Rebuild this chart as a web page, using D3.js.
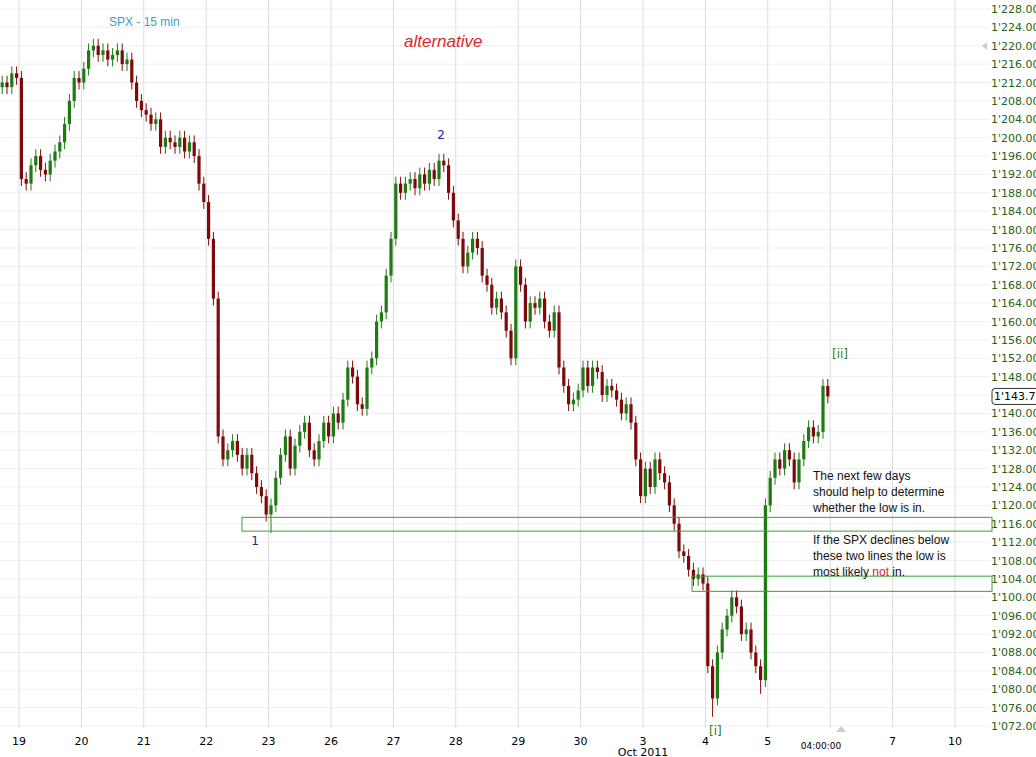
<!DOCTYPE html>
<html><head><meta charset="utf-8">
<script src="https://cdn.jsdelivr.net/npm/d3@7"></script>
<style>body{margin:0;background:#fff}svg{display:block;font-family:"DejaVu Sans",Verdana,sans-serif}</style>
</head><body><svg id="c" width="1036" height="757"></svg>
<script>
// day slots on the x axis (incl. empty future days)
const days = ['16', '19', '20', '21', '22', '23', '26', '27', '28', '29', '30', '3', '4', '5', '6', '7', '10'];
const dayLabels = ['', '19', '20', '21', '22', '23', '26', '27', '28', '29', '30', '3', '4', '5', '', '7', '10'];
// 30-min closes per session (13 slots each)
const closes = {
  '16': [1212, 1211, 1214, 1213],
  '19': [1191, 1190, 1194, 1196, 1193, 1192, 1195, 1197, 1199, 1203, 1208, 1213, 1212],
  '20': [1215, 1219, 1220, 1218, 1219, 1217, 1218, 1219, 1216, 1217, 1212, 1208, 1206],
  '21': [1205, 1203, 1204, 1198, 1200, 1199, 1198, 1200, 1197, 1199, 1196, 1190, 1186],
  '22': [1178, 1165, 1135, 1130, 1132, 1134, 1131, 1128, 1131, 1127, 1124, 1122, 1118],
  '23': [1120, 1126, 1131, 1135, 1128, 1133, 1136, 1138, 1132, 1130, 1134, 1138, 1135],
  '26': [1140, 1138, 1143, 1150, 1148, 1142, 1141, 1150, 1152, 1160, 1162, 1170, 1178],
  '27': [1190, 1188, 1190, 1191, 1189, 1192, 1190, 1193, 1191, 1195, 1194, 1188, 1182],
  '28': [1178, 1172, 1175, 1178, 1176, 1170, 1168, 1163, 1165, 1162, 1158, 1152, 1172],
  '29': [1168, 1160, 1164, 1163, 1165, 1160, 1158, 1162, 1150, 1146, 1142, 1143, 1145],
  '30': [1150, 1146, 1150, 1149, 1144, 1146, 1145, 1143, 1140, 1142, 1138, 1130, 1122],
  '3': [1128, 1124, 1130, 1127, 1125, 1120, 1116, 1110, 1109, 1106, 1104, 1105, 1103],
  '4': [1085, 1078, 1088, 1093, 1096, 1100, 1098, 1092, 1093, 1088, 1085, 1082, 1120],
  '5': [1126, 1130, 1128, 1132, 1130, 1125, 1130, 1134, 1137, 1135, 1136, 1146, 1143.7]
};
// extreme wicks
const lowOverride = { '23-0': 1114, '4-1': 1074, '4-11': 1079 };
const priceTicks = d3.range(1072, 1229, 4);
const lastPrice = 1143.7;
const zone1 = [1114.4, 1117.4];
const zone2 = [1101.3, 1104.6];

const svg = d3.select('#c');
const SLOTS = 13;
const x = d3.scaleLinear().domain([0, days.length]).range([-43.4, 1017.4]); // 62.4px per day, '19' at x=19
const y = d3.scaleLinear().domain([1072, 1228]).range([726, 9]);
const plotRight = 990;

// build bars
const bars = [];
let prev = 1213;
days.forEach((d, di) => {
  const cs = closes[d];
  if (!cs) return;
  const offset = d === '16' ? SLOTS - cs.length : 0;
  cs.forEach((c, i) => {
    const o = d === '16' && i === 0 ? 1211 : prev;
    const key = d + '-' + i;
    bars.push({
      x: x(di + (offset + i + 0.5) / SLOTS),
      o, c,
      h: Math.max(o, c) + 1.5,
      l: lowOverride[key] !== undefined ? lowOverride[key] : Math.min(o, c) - 1.5
    });
    prev = c;
  });
});

// grid
svg.append('g').selectAll('line').data(priceTicks).join('line')
  .attr('x1', 0).attr('x2', plotRight).attr('y1', (d) => y(d)).attr('y2', (d) => y(d))
  .attr('stroke', '#efefef');
svg.append('g').selectAll('line').data(days.slice(1)).join('line')
  .attr('x1', (d, i) => x(i + 1)).attr('x2', (d, i) => x(i + 1))
  .attr('y1', 0).attr('y2', 728).attr('stroke', '#dcdcdc');

// candles
const green = '#1f7a12', red = '#7d0a0a';
const cg = svg.append('g');
cg.selectAll('line').data(bars).join('line')
  .attr('x1', (d) => d.x).attr('x2', (d) => d.x)
  .attr('y1', (d) => y(d.h)).attr('y2', (d) => y(d.l))
  .attr('stroke', (d) => (d.c >= d.o ? green : red)).attr('stroke-width', 1);
cg.selectAll('rect').data(bars).join('rect')
  .attr('x', (d) => d.x - 1.6).attr('width', 3.2)
  .attr('y', (d) => y(Math.max(d.o, d.c)))
  .attr('height', (d) => Math.max(1, Math.abs(y(d.o) - y(d.c))))
  .attr('fill', (d) => (d.c >= d.o ? green : red));

// zones
svg.append('rect').attr('x', 242).attr('width', 750).attr('y', y(zone1[1])).attr('height', y(zone1[0]) - y(zone1[1]))
  .attr('fill', 'none').attr('stroke', '#3c9a3c');
svg.append('rect').attr('x', 692).attr('width', 300).attr('y', y(zone2[1])).attr('height', y(zone2[0]) - y(zone2[1]))
  .attr('fill', 'none').attr('stroke', '#3c9a3c');

// y axis labels (the one under the last-price box is hidden)
const fmt = (v) => d3.format(',.2f')(v).replace(/,/g, "'");
svg.append('g').selectAll('text').data(priceTicks.filter((d) => Math.abs(d - lastPrice) > 2)).join('text')
  .attr('x', 991).attr('y', (d) => y(d) + 4).attr('font-size', 11).attr('fill', '#266316').text(fmt);
svg.append('rect').attr('x', 992).attr('y', y(lastPrice) - 8).attr('width', 50).attr('height', 16).attr('rx', 3)
  .attr('fill', '#fff').attr('stroke', '#333');
svg.append('text').attr('x', 994).attr('y', y(lastPrice) + 4).attr('font-size', 11).attr('fill', '#000').text(fmt(lastPrice));

// x axis labels
svg.append('g').selectAll('text').data(dayLabels).join('text')
  .attr('x', (d, i) => x(i)).attr('y', 745).attr('text-anchor', 'middle').attr('font-size', 11).attr('fill', '#000')
  .text((d) => d);
svg.append('text').attr('x', 643).attr('y', 756).attr('text-anchor', 'middle').attr('font-size', 11).text('Oct 2011');
svg.append('text').attr('x', 821).attr('y', 749).attr('text-anchor', 'middle').attr('font-size', 9).text('04:00:00');
svg.append('path').attr('d', 'M836,732 L841,726 L846,732 Z').attr('fill', '#ccc');
svg.append('path').attr('d', 'M982,46 L987,42 L987,50 Z').attr('fill', '#ccc');

// annotations
svg.append('text').attr('x', 109).attr('y', 26).attr('font-size', 12).attr('fill', '#3aa0c8').attr('font-family', 'Liberation Sans, Arial').text('SPX - 15 min');
svg.append('text').attr('x', 404).attr('y', 47).attr('font-size', 17).attr('font-style', 'italic').attr('fill', '#d62a2a').attr('font-family', 'Liberation Sans, Arial').text('alternative');
svg.append('text').attr('x', 441).attr('y', 139).attr('text-anchor', 'middle').attr('font-size', 12).attr('fill', '#2222aa').text('2');
svg.append('text').attr('x', 255).attr('y', 545).attr('text-anchor', 'middle').attr('font-size', 12).attr('fill', '#2222aa').text('1');
svg.append('text').attr('x', 832).attr('y', 358).attr('font-size', 12).attr('fill', '#2e7d1f').text('[ii]');
svg.append('text').attr('x', 709).attr('y', 735).attr('font-size', 12).attr('fill', '#2e7d1f').text('[i]');

const note = svg.append('g').attr('font-family', 'Liberation Sans, Arial').attr('font-size', 12).attr('fill', '#111');
['The next few days', 'should help to determine', 'whether the low is in.'].forEach((t, i) => {
  note.append('text').attr('x', 813).attr('y', 480 + i * 16).text(t);
});
['If the SPX declines below', 'these two lines the low is'].forEach((t, i) => {
  note.append('text').attr('x', 813).attr('y', 544 + i * 16).text(t);
});
const last = note.append('text').attr('x', 813).attr('y', 576);
last.append('tspan').text('most likely ');
last.append('tspan').attr('fill', '#e02020').text('not');
last.append('tspan').text(' in.');
</script></body></html>
